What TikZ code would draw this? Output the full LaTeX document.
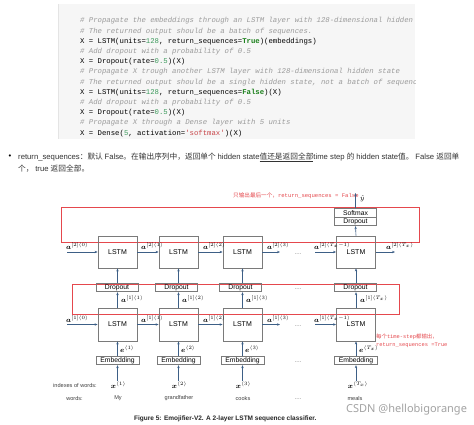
\documentclass[tikz,border=0pt]{standalone}
\usepackage{amsmath,amssymb}
\usepackage{fontspec}
\setmainfont{Liberation Sans}
\setsansfont{Liberation Sans}
\newfontfamily\codefont{Liberation Mono}
\newfontfamily\cjk{Noto Sans CJK SC}
\newfontfamily\wmfont{Noto Sans}
\usetikzlibrary{arrows.meta}
\definecolor{codebg}{HTML}{F6F6F6}
\definecolor{codeborder}{HTML}{E4E4E4}
\definecolor{cmt}{HTML}{9A9A9A}
\definecolor{numgreen}{HTML}{3C9A5C}
\definecolor{kwgreen}{HTML}{1A7F1A}
\definecolor{strred}{HTML}{C8464A}
\definecolor{redline}{HTML}{E5484D}
\definecolor{boxgray}{HTML}{7A7A7A}
\definecolor{arrblue}{HTML}{3D5F86}
\definecolor{wmgray}{HTML}{A3A3A3}
\newcommand{\cnum}[1]{\textcolor{numgreen}{#1}}
\newcommand{\ckw}[1]{\textcolor{kwgreen}{\bfseries #1}}
\newcommand{\cstr}[1]{\textcolor{strred}{#1}}
\begin{document}
\begin{tikzpicture}[x=1pt,y=-1pt,
  codeline/.style={anchor=west,inner sep=0pt,font=\codefont\fontsize{7.3}{8}\selectfont},
  cmtline/.style={codeline,text=cmt,font=\codefont\itshape\fontsize{7.3}{8}\selectfont},
  lstmbox/.style={draw=boxgray,line width=0.8pt,minimum width=39pt,minimum height=32pt,inner sep=0pt,font=\sffamily\fontsize{7}{8}\selectfont},
  thinbox/.style={draw=boxgray,line width=0.8pt,minimum width=42pt,minimum height=8.5pt,inner sep=0pt,font=\sffamily\fontsize{6.8}{7}\selectfont},
  arr/.style={-{Stealth[length=3pt,width=2.4pt]},draw=arrblue,line width=0.6pt},
  redbox/.style={draw=redline,line width=1pt},
  redlabel/.style={text=redline,inner sep=0pt,font=\fontsize{5.6}{6.6}\selectfont},
  lab/.style={inner sep=0pt,font=\fontsize{7}{8}\selectfont},
  word/.style={inner sep=0pt,text=black!75,font=\sffamily\fontsize{5.6}{6}\selectfont},
  dots/.style={inner sep=0pt,text=black!55,font=\sffamily\fontsize{6}{6}\selectfont}]
\useasboundingbox (0,0) rectangle (474,424);
\fill[white] (0,0) rectangle (474,424);
% ---------- code box ----------
\fill[codebg] (58,4) rectangle (415,139);
\draw[codeborder,line width=0.6pt] (58,4) -- (58,139);
\begin{scope}
\clip (58,4) rectangle (415,139);
\node[cmtline] (c0) at (80,21.0) {\# Propagate the embeddings through an LSTM layer with 128-dimensional hidden state};
\node[cmtline] (c1) at (80,31.2) {\# The returned output should be a batch of sequences.};
\node[codeline] (c2) at (80,41.4) {X = LSTM(units=\cnum{128}, return\_sequences=\ckw{True})(embeddings)};
\node[cmtline] (c3) at (80,51.6) {\# Add dropout with a probability of 0.5};
\node[codeline] (c4) at (80,61.8) {X = Dropout(rate=\cnum{0.5})(X)};
\node[cmtline] (c5) at (80,72.0) {\# Propagate X trough another LSTM layer with 128-dimensional hidden state};
\node[cmtline] (c6) at (80,82.2) {\# The returned output should be a single hidden state, not a batch of sequences.};
\node[codeline] (c7) at (80,92.4) {X = LSTM(units=\cnum{128}, return\_sequences=\ckw{False})(X)};
\node[cmtline] (c8) at (80,102.6) {\# Add dropout with a probability of 0.5};
\node[codeline] (c9) at (80,112.8) {X = Dropout(rate=\cnum{0.5})(X)};
\node[cmtline] (c10) at (80,123.0) {\# Propagate X through a Dense layer with 5 units};
\node[codeline] (c11) at (80,133.2) {X = Dense(\cnum{5}, activation=\cstr{'softmax'})(X)};
\end{scope}
% ---------- bullet text ----------
\node[inner sep=0pt,font=\fontsize{7.7}{8}\selectfont] (bul) at (10,157) {•};
\node[anchor=west,inner sep=0pt,text=black!80,font=\fontsize{7.7}{8}\selectfont] (t1) at (18,157)
  {return\_sequences{\cjk ：默认 }False{\cjk 。在输出序列中，返回单个 }hidden state{\cjk \underline{值还是返回全部}}time step {\cjk 的 }hidden state{\cjk 值。 }False {\cjk 返回单}};
\node[anchor=west,inner sep=0pt,text=black!80,font=\fontsize{7.7}{8}\selectfont] (t2) at (18,169)
  {{\cjk 个， }true {\cjk 返回全部。}};
% ---------- red frames ----------
\draw[redbox] (61,207) rectangle (419,242);
\draw[redbox] (72,284) rectangle (399,314);
\node[redlabel,anchor=west] (r1) at (233,196) {{\cjk 只输出最后一个，}{\codefont return\_sequences = False}};
\node[redlabel,anchor=west,align=left,font=\fontsize{5.4}{8}\selectfont] (r2) at (376,341) {{\cjk 每个}{\codefont time-step}{\cjk 都输出，}\\{\codefont return\_sequences =True}};
% ---------- top layer ----------
\node[lstmbox] (L21) at (117.5,252) {LSTM};
\node[lstmbox] (L22) at (178.5,252) {LSTM};
\node[lstmbox] (L23) at (242.5,252) {LSTM};
\node[lstmbox] (L2T) at (356,252) {LSTM};
\node[thinbox] (sm) at (355.5,213) {Softmax};
\node[thinbox] (dtop) at (355.5,221.5) {Dropout};
\coordinate (yhat) at (355.5,193);
\draw[arr] (L2T.north) -- (dtop.south);
\draw[arr] (sm.north) -- (yhat);
\node[lab,anchor=west] (yl) at (360,199) {$\hat{y}$};
% ---------- middle dropouts ----------
\node[thinbox] (D1) at (117,287.5) {Dropout};
\node[thinbox] (D2) at (176.5,287.5) {Dropout};
\node[thinbox] (D3) at (240.5,287.5) {Dropout};
\node[thinbox] (DT) at (355.5,287.5) {Dropout};
\node[dots] (dd) at (298,289) {....};
% ---------- bottom layer ----------
\node[lstmbox,minimum height=33pt] (L11) at (117.5,324.5) {LSTM};
\node[lstmbox,minimum height=33pt] (L12) at (178.5,324.5) {LSTM};
\node[lstmbox,minimum height=33pt] (L13) at (242.5,324.5) {LSTM};
\node[lstmbox,minimum height=33pt] (L1T) at (356,324.5) {LSTM};
% ---------- embeddings ----------
\node[thinbox,minimum width=43pt] (E1) at (117.5,360.5) {Embedding};
\node[thinbox,minimum width=43pt] (E2) at (178.5,360.5) {Embedding};
\node[thinbox,minimum width=43pt] (E3) at (242.5,360.5) {Embedding};
\node[thinbox,minimum width=43pt] (ET) at (356,360.5) {Embedding};
\node[dots] (de) at (298,362) {....};
% ---------- inputs ----------
\node[lab] (x1) at (118.5,385) {$\boldsymbol{x}^{\langle 1\rangle}$};
\node[lab] (x2) at (179.5,385) {$\boldsymbol{x}^{\langle 2\rangle}$};
\node[lab] (x3) at (243.5,385) {$\boldsymbol{x}^{\langle 3\rangle}$};
\node[lab] (xT) at (358,385) {$\boldsymbol{x}^{\langle T_x\rangle}$};
\node[word,anchor=east] (iw) at (97,385) {indexes of words:};
\node[word,anchor=east] (ww) at (83,398) {words:};
\node[word] (w1) at (118,398) {My};
\node[word] (w2) at (179,398) {grandfather};
\node[word] (w3) at (243,398) {cooks};
\node[dots] (w4) at (298,399) {....};
\node[word] (w5) at (355,398) {meals};
% ---------- vertical arrows ----------
\foreach \i in {1,2,3,T}{
  \draw[arr] (L2\i.north |- D\i.north) -- (L2\i.south);
  \draw[arr] (L1\i.north) -- (L1\i.north |- D\i.south);
  \draw[arr] (E\i.north) -- (L1\i.south);
  \draw[arr] (L1\i.south |- x\i.north) -- (E\i.south);
}
\node[lab,anchor=west] (ad1) at (121,299.5) {$\boldsymbol{a}^{[1]\langle 1\rangle}$};
\node[lab,anchor=west] (ad2) at (182,299.5) {$\boldsymbol{a}^{[1]\langle 2\rangle}$};
\node[lab,anchor=west] (ad3) at (246,299.5) {$\boldsymbol{a}^{[1]\langle 3\rangle}$};
\node[lab,anchor=west] (adT) at (360,299.5) {$\boldsymbol{a}^{[1]\langle T_x\rangle}$};
\node[lab,anchor=west] (e1) at (120,349.5) {$\boldsymbol{e}^{\langle 1\rangle}$};
\node[lab,anchor=west] (e2) at (181,349.5) {$\boldsymbol{e}^{\langle 2\rangle}$};
\node[lab,anchor=west] (e3) at (245,349.5) {$\boldsymbol{e}^{\langle 3\rangle}$};
\node[lab,anchor=west] (eT) at (359,349.5) {$\boldsymbol{e}^{\langle T_x\rangle}$};
% ---------- horizontal arrows, top layer ----------
\coordinate (a20) at (67,252);
\coordinate (a23e) at (280,252);
\coordinate (a2Ts) at (315,252);
\coordinate (a2Te) at (395,252);
\draw[arr] (a20) -- (L21.west);
\draw[arr] (L21.east) -- (L22.west);
\draw[arr] (L22.east) -- (L23.west);
\draw[arr] (L23.east) -- (a23e);
\draw[arr] (a2Ts) -- (L2T.west);
\draw[arr] (L2T.east) -- (a2Te);
\node[dots] (dt) at (298,254) {....};
\node[lab,anchor=south west] (l20) at (66,250) {$\boldsymbol{a}^{[2]\langle 0\rangle}$};
\node[lab,anchor=south west] (l21) at (141,250) {$\boldsymbol{a}^{[2]\langle 1\rangle}$};
\node[lab,anchor=south west] (l22) at (203,250) {$\boldsymbol{a}^{[2]\langle 2\rangle}$};
\node[lab,anchor=south west] (l23) at (267,250) {$\boldsymbol{a}^{[2]\langle 3\rangle}$};
\node[lab,anchor=south west] (l2T1) at (314,250) {$\boldsymbol{a}^{[2]\langle T_x-1\rangle}$};
\node[lab,anchor=south west] (l2T) at (386,250) {$\boldsymbol{a}^{[2]\langle T_x\rangle}$};
% ---------- horizontal arrows, bottom layer ----------
\coordinate (a10) at (67,324.5);
\coordinate (a13e) at (280,324.5);
\coordinate (a1Ts) at (315,324.5);
\draw[arr] (a10) -- (L11.west);
\draw[arr] (L11.east) -- (L12.west);
\draw[arr] (L12.east) -- (L13.west);
\draw[arr] (L13.east) -- (a13e);
\draw[arr] (a1Ts) -- (L1T.west);
\node[dots] (db) at (298,326) {....};
\node[lab,anchor=south west] (l10) at (66,322.5) {$\boldsymbol{a}^{[1]\langle 0\rangle}$};
\node[lab,anchor=south west] (l11) at (141,322.5) {$\boldsymbol{a}^{[1]\langle 1\rangle}$};
\node[lab,anchor=south west] (l12) at (203,322.5) {$\boldsymbol{a}^{[1]\langle 2\rangle}$};
\node[lab,anchor=south west] (l13) at (267,322.5) {$\boldsymbol{a}^{[1]\langle 3\rangle}$};
\node[lab,anchor=south west] (l1T1) at (314,322.5) {$\boldsymbol{a}^{[1]\langle T_x-1\rangle}$};
% ---------- caption and watermark ----------
\node[anchor=north west,inner sep=0pt,text=black!85,font=\bfseries\fontsize{6.5}{7}\selectfont] (cap) at (134,416) {Figure 5: Emojifier-V2. A 2-layer LSTM sequence classifier.};
\node[anchor=west,inner sep=0pt,text=wmgray,font=\wmfont\fontsize{11}{12}\selectfont] (wm) at (346,410) {CSDN @hellobigorange};
\end{tikzpicture}
\end{document}
